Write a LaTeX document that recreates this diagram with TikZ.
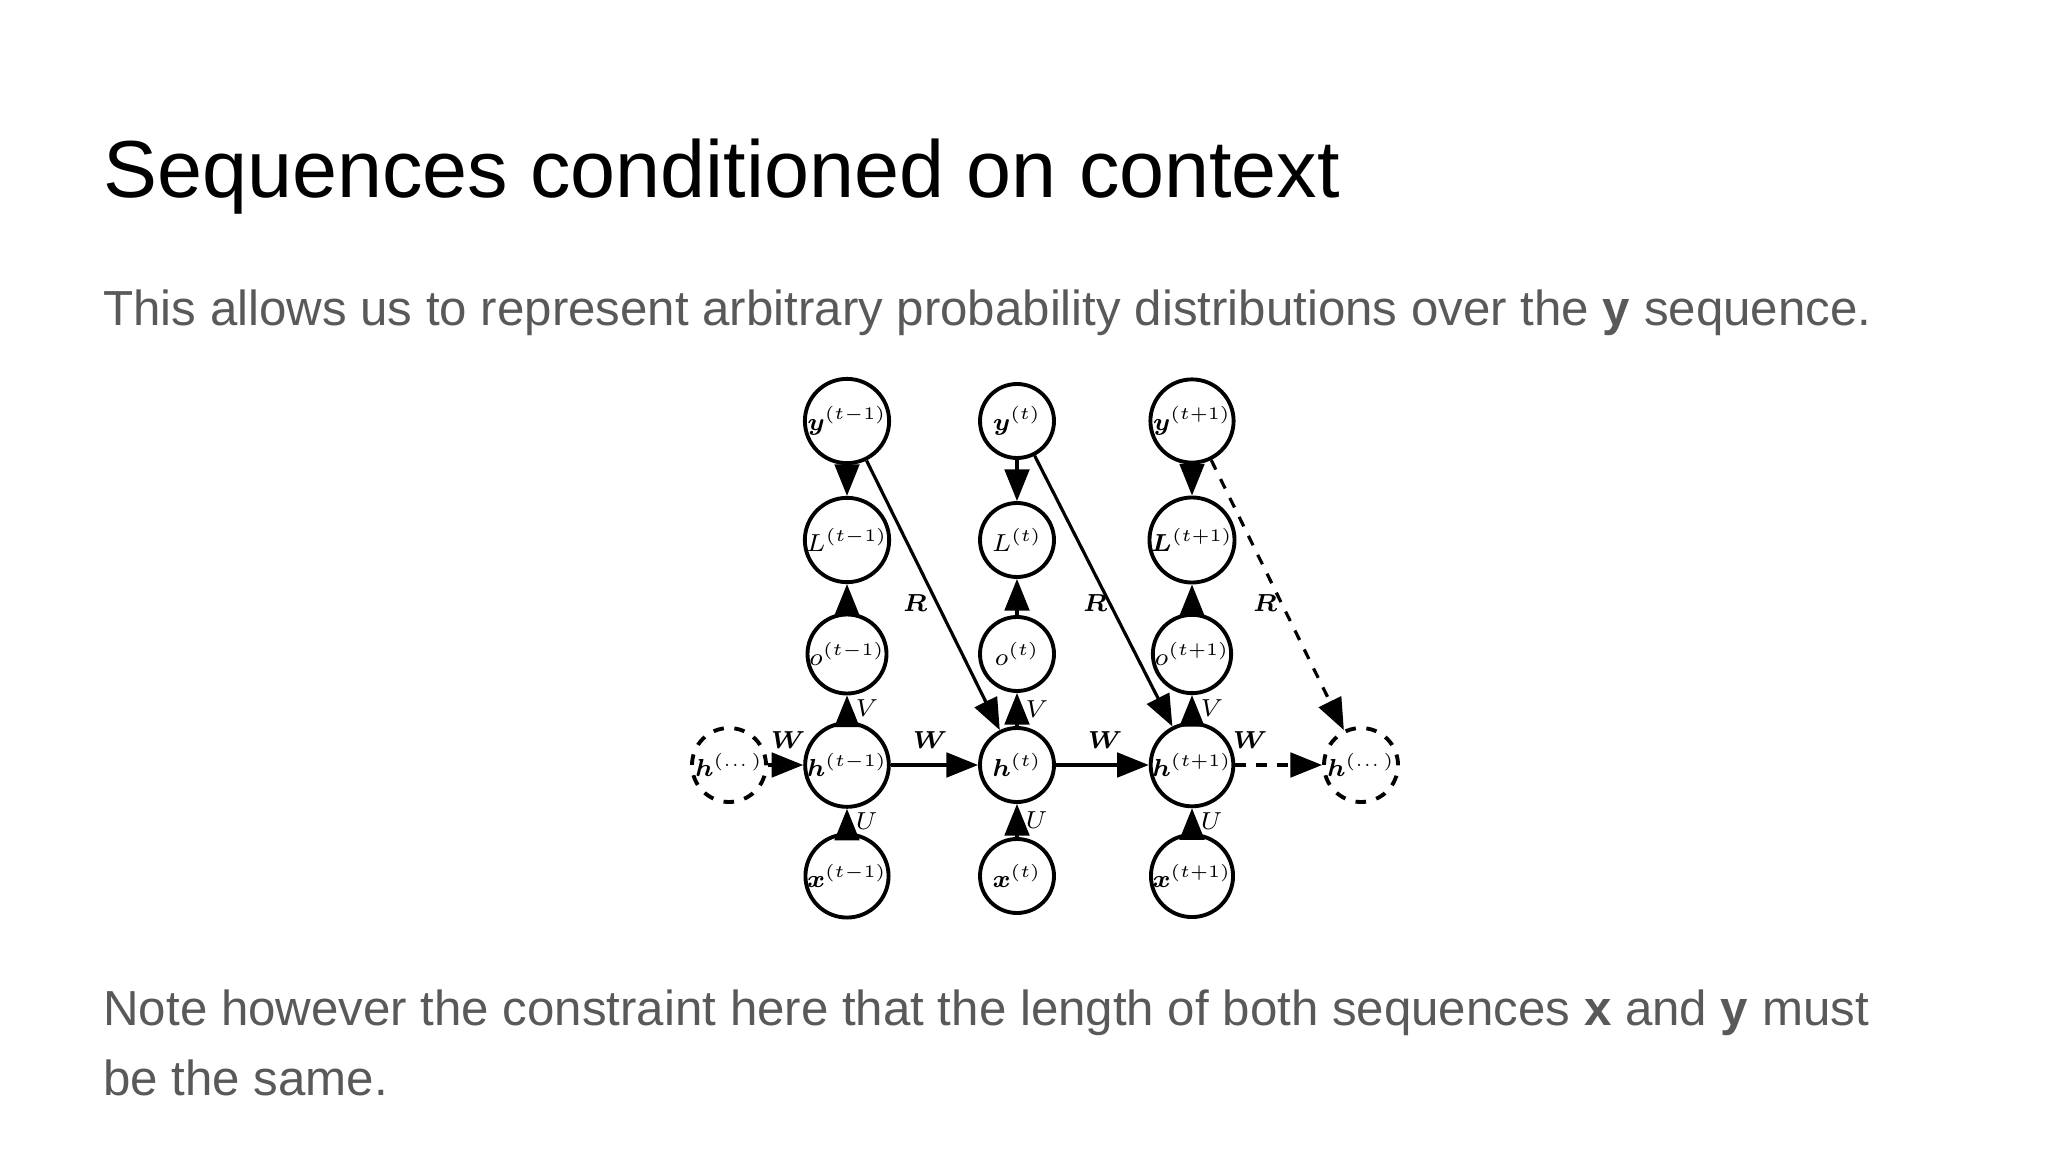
\documentclass[tikz,border=0pt]{standalone}
\usepackage{amsmath,bm}
\usepackage{fontspec}
\setmainfont{Liberation Sans}
\usetikzlibrary{arrows.meta}
\definecolor{bodygrey}{HTML}{595959}
\begin{document}
\begin{tikzpicture}[x=0.01cm,y=-0.01cm,
  nd/.style={circle,draw,line width=1.1pt,minimum size=74*0.01cm,inner sep=0pt,font=\fontsize{7}{8}\selectfont},
  dnd/.style={nd,dashed},
  ar/.style={-{Triangle[length=9pt,width=7pt]},line width=0.9pt},
  lab/.style={font=\fontsize{7}{8}\selectfont}]
\useasboundingbox (0,0) rectangle (2048,1152);
\node[anchor=base west,font=\fontsize{23}{27}\selectfont] (title) at (91,198) {Sequences conditioned on context};
\node[anchor=base west,font=\fontsize{14}{17}\selectfont,text=bodygrey] (l1) at (91,326) {This allows us to represent arbitrary probability distributions over the \textbf{y} sequence.};
\node[anchor=base west,font=\fontsize{14}{17}\selectfont,text=bodygrey] (l2) at (91,1025) {Note however the constraint here that the length of both sequences \textbf{x} and \textbf{y} must};
\node[anchor=base west,font=\fontsize{14}{17}\selectfont,text=bodygrey] (l3) at (91,1095) {be the same.};
% nodes
\node[nd] (y1) at (847,421) {$\bm{y}^{(t-1)}$};
\node[nd] (y2) at (1017,421) {$\bm{y}^{(t)}$};
\node[nd] (y3) at (1192,421) {$\bm{y}^{(t+1)}$};
\node[nd] (L1) at (847,540) {$L^{(t-1)}$};
\node[nd] (L2) at (1017,540) {$L^{(t)}$};
\node[nd] (L3) at (1192,540) {$\bm{L}^{(t+1)}$};
\node[nd] (o1) at (847,654) {$o^{(t-1)}$};
\node[nd] (o2) at (1017,654) {$o^{(t)}$};
\node[nd] (o3) at (1192,654) {$o^{(t+1)}$};
\node[nd] (h1) at (847,765) {$\bm{h}^{(t-1)}$};
\node[nd] (h2) at (1017,765) {$\bm{h}^{(t)}$};
\node[nd] (h3) at (1192,765) {$\bm{h}^{(t+1)}$};
\node[nd] (x1) at (847,876) {$\bm{x}^{(t-1)}$};
\node[nd] (x2) at (1017,876) {$\bm{x}^{(t)}$};
\node[nd] (x3) at (1192,876) {$\bm{x}^{(t+1)}$};
\node[dnd] (h0) at (729,765) {$\bm{h}^{(\dots)}$};
\node[dnd] (h4) at (1361,765) {$\bm{h}^{(\dots)}$};
% edges
\foreach \i in {1,2,3}{
  \draw[ar] (y\i) -- (L\i);
  \draw[ar] (o\i) -- (L\i);
  \draw[ar] (h\i) -- node[lab,right,inner sep=2pt]{$V$} (o\i);
  \draw[ar] (x\i) -- node[lab,right,inner sep=2pt]{$U$} (h\i);
}
\draw[ar,dashed] (h0) -- (h1);
\draw[ar] (h1) -- (h2);
\draw[ar] (h2) -- (h3);
\draw[ar,dashed] (h3) -- (h4);
\draw[ar] (y1) -- (h2);
\draw[ar] (y2) -- (h3);
\draw[ar,dashed] (y3) -- (h4);
\node[lab] (w0) at (788,740) {$\bm{W}$};
\node[lab] (w1) at (930,740) {$\bm{W}$};
\node[lab] (w2) at (1105,740) {$\bm{W}$};
\node[lab] (w3) at (1250,740) {$\bm{W}$};
\node[lab] (r1) at (915,603) {$\bm{R}$};
\node[lab] (r2) at (1095,603) {$\bm{R}$};
\node[lab] (r3) at (1265,603) {$\bm{R}$};
\end{tikzpicture}
\end{document}
